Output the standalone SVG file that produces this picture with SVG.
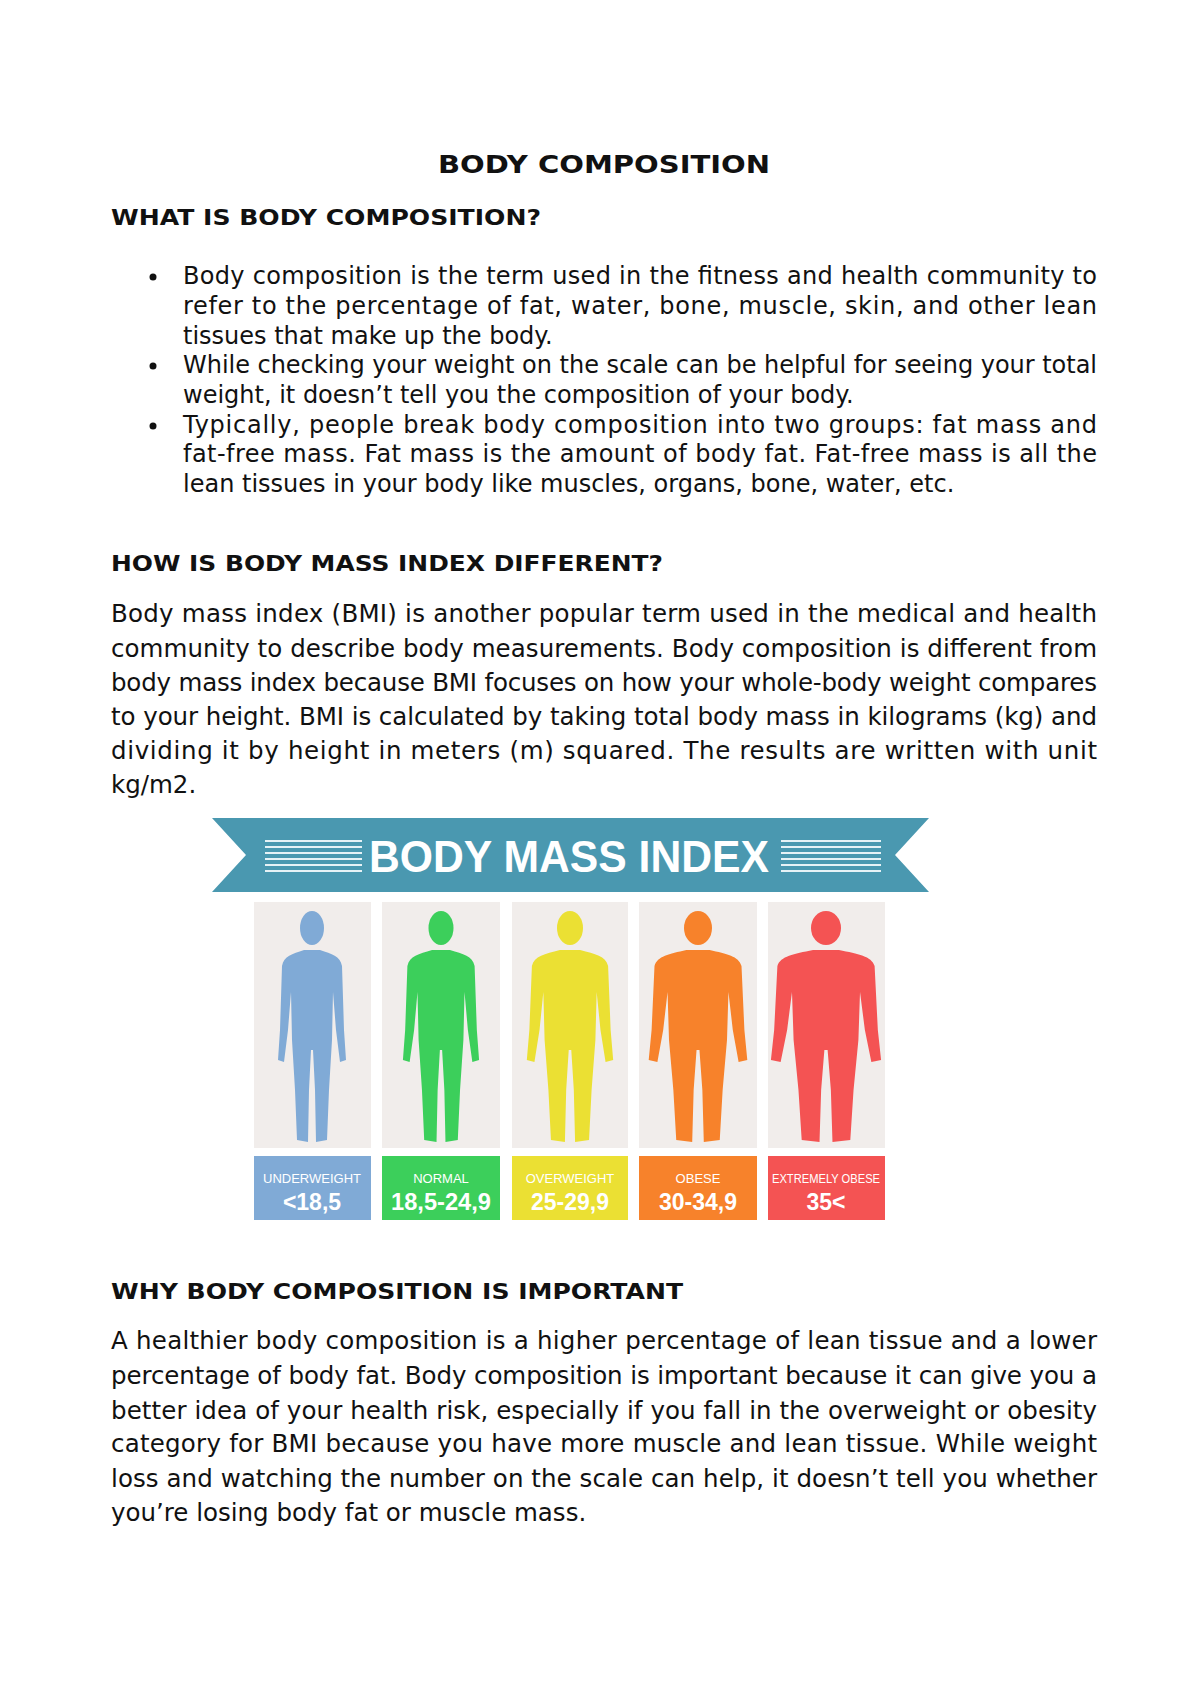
<svg xmlns="http://www.w3.org/2000/svg" width="1200" height="1696" viewBox="0 0 1200 1696">
<style>
.t{font-family:"DejaVu Sans",Verdana,sans-serif;font-size:24px;fill:#111}
.p{font-family:"DejaVu Sans",Verdana,sans-serif;font-size:24.5px;fill:#111}
.h{font-family:"DejaVu Sans",Verdana,sans-serif;font-size:21px;font-weight:bold;fill:#111}
.panel{fill:#f1edeb}
.lab{font-family:"Liberation Sans",Arial,sans-serif;fill:#fff;text-anchor:middle}
.s{font-size:13px}
.b{font-size:23px;font-weight:bold}
.st{stroke:#e6f2f6;stroke-width:2.2}
</style>
<defs>
<path id="body" d="M -8 950 L 8 950 C 20 954 28 956 30 966 L 32 1030 L 34 1060 L 28 1062 L 24 1030 L 21 992 L 20 1040 L 17 1090 L 15 1140 L 4 1142 L 3 1090 L 1 1050 L -1 1050 L -3 1090 L -4 1142 L -15 1140 L -17 1090 L -20 1040 L -21 992 L -24 1030 L -28 1062 L -34 1060 L -32 1030 L -30 966 C -28 956 -20 954 -8 950 Z"/>
</defs>
<rect width="1200" height="1696" fill="#fff"/>
<text x="604" y="173" class="h" style="font-size:24px" text-anchor="middle" textLength="332" lengthAdjust="spacingAndGlyphs">BODY COMPOSITION</text>
<text x="111" y="225" class="h" textLength="430" lengthAdjust="spacingAndGlyphs">WHAT IS BODY COMPOSITION?</text>
<g fill="#111"><circle cx="153" cy="277" r="3.5"/><circle cx="153" cy="366" r="3.5"/><circle cx="153" cy="426" r="3.5"/></g>
<text x="183" y="284" class="t" textLength="914" lengthAdjust="spacing">Body composition is the term used in the fitness and health community to</text>
<text x="183" y="314" class="t" textLength="914" lengthAdjust="spacing">refer to the percentage of fat, water, bone, muscle, skin, and other lean</text>
<text x="183" y="344" class="t">tissues that make up the body.</text>
<text x="183" y="373" class="t" textLength="914" lengthAdjust="spacing">While checking your weight on the scale can be helpful for seeing your total</text>
<text x="183" y="403" class="t">weight, it doesn’t tell you the composition of your body.</text>
<text x="183" y="433" class="t" textLength="914" lengthAdjust="spacing">Typically, people break body composition into two groups: fat mass and</text>
<text x="183" y="462" class="t" textLength="914" lengthAdjust="spacing">fat-free mass. Fat mass is the amount of body fat. Fat-free mass is all the</text>
<text x="183" y="492" class="t">lean tissues in your body like muscles, organs, bone, water, etc.</text>
<text x="111" y="571" class="h" textLength="552" lengthAdjust="spacingAndGlyphs">HOW IS BODY MASS INDEX DIFFERENT?</text>
<text x="111" y="622" class="p" textLength="986" lengthAdjust="spacing">Body mass index (BMI) is another popular term used in the medical and health</text>
<text x="111" y="657" class="p" textLength="986" lengthAdjust="spacing">community to describe body measurements. Body composition is different from</text>
<text x="111" y="691" class="p" textLength="986" lengthAdjust="spacing">body mass index because BMI focuses on how your whole-body weight compares</text>
<text x="111" y="725" class="p" textLength="986" lengthAdjust="spacing">to your height. BMI is calculated by taking total body mass in kilograms (kg) and</text>
<text x="111" y="759" class="p" textLength="986" lengthAdjust="spacing">dividing it by height in meters (m) squared. The results are written with unit</text>
<text x="111" y="793" class="p">kg/m2.</text>
<g id="bmi-banner">
<polygon points="212,818 929,818 895,855 929,892 212,892 246,855" fill="#4a98b0"/>
<g class="st">
<line x1="265" y1="841" x2="362" y2="841"/><line x1="265" y1="847" x2="362" y2="847"/><line x1="265" y1="853" x2="362" y2="853"/><line x1="265" y1="859" x2="362" y2="859"/><line x1="265" y1="865" x2="362" y2="865"/><line x1="265" y1="871" x2="362" y2="871"/>
<line x1="781" y1="841" x2="881" y2="841"/><line x1="781" y1="847" x2="881" y2="847"/><line x1="781" y1="853" x2="881" y2="853"/><line x1="781" y1="859" x2="881" y2="859"/><line x1="781" y1="865" x2="881" y2="865"/><line x1="781" y1="871" x2="881" y2="871"/>
</g>
<text x="369" y="872" font-family="Liberation Sans,Arial,sans-serif" font-weight="bold" font-size="44" fill="#fff" textLength="400" lengthAdjust="spacingAndGlyphs">BODY MASS INDEX</text>
</g>
<g id="underweight">
<rect x="254" y="902" width="117" height="246" class="panel"/>
<ellipse cx="312" cy="928" rx="12" ry="17" fill="#80aad6"/>
<use href="#body" transform="translate(312,0)" fill="#80aad6"/>
<rect x="254" y="1156" width="117" height="64" fill="#80aad6"/>
<text x="312" y="1183" class="lab s">UNDERWEIGHT</text><text x="312" y="1210" class="lab b">&lt;18,5</text>
</g>
<g id="normal">
<rect x="382" y="902" width="118" height="246" class="panel"/>
<ellipse cx="441" cy="928" rx="12.5" ry="17" fill="#3ccf5b"/>
<use href="#body" transform="translate(441,0) scale(1.12,1)" fill="#3ccf5b"/>
<rect x="382" y="1156" width="118" height="64" fill="#3ccf5b"/>
<text x="441" y="1183" class="lab s">NORMAL</text><text x="441" y="1210" class="lab b" textLength="100" lengthAdjust="spacingAndGlyphs">18,5-24,9</text>
</g>
<g id="overweight">
<rect x="512" y="902" width="116" height="246" class="panel"/>
<ellipse cx="570" cy="928" rx="13" ry="17" fill="#ebe033"/>
<use href="#body" transform="translate(570,0) scale(1.27,1)" fill="#ebe033"/>
<rect x="512" y="1156" width="116" height="64" fill="#ebe033"/>
<text x="570" y="1183" class="lab s">OVERWEIGHT</text><text x="570" y="1210" class="lab b">25-29,9</text>
</g>
<g id="obese">
<rect x="639" y="902" width="118" height="246" class="panel"/>
<ellipse cx="698" cy="928" rx="14" ry="17" fill="#f7822b"/>
<use href="#body" transform="translate(698,0) scale(1.45,1)" fill="#f7822b"/>
<rect x="639" y="1156" width="118" height="64" fill="#f7822b"/>
<text x="698" y="1183" class="lab s">OBESE</text><text x="698" y="1210" class="lab b">30-34,9</text>
</g>
<g id="extremely-obese">
<rect x="768" y="902" width="117" height="246" class="panel"/>
<ellipse cx="826" cy="928" rx="15" ry="17" fill="#f45353"/>
<use href="#body" transform="translate(826,0) scale(1.62,1)" fill="#f45353"/>
<rect x="768" y="1156" width="117" height="64" fill="#f45353"/>
<text x="826" y="1183" class="lab s" textLength="108" lengthAdjust="spacingAndGlyphs">EXTREMELY OBESE</text><text x="826" y="1210" class="lab b">35&lt;</text>
</g>
<text x="111" y="1299" class="h" textLength="572" lengthAdjust="spacingAndGlyphs">WHY BODY COMPOSITION IS IMPORTANT</text>
<text x="111" y="1349" class="p" textLength="986" lengthAdjust="spacing">A healthier body composition is a higher percentage of lean tissue and a lower</text>
<text x="111" y="1384" class="p" textLength="986" lengthAdjust="spacing">percentage of body fat. Body composition is important because it can give you a</text>
<text x="111" y="1419" class="p" textLength="986" lengthAdjust="spacing">better idea of your health risk, especially if you fall in the overweight or obesity</text>
<text x="111" y="1452" class="p" textLength="986" lengthAdjust="spacing">category for BMI because you have more muscle and lean tissue. While weight</text>
<text x="111" y="1487" class="p" textLength="986" lengthAdjust="spacing">loss and watching the number on the scale can help, it doesn’t tell you whether</text>
<text x="111" y="1521" class="p">you’re losing body fat or muscle mass.</text>
</svg>
